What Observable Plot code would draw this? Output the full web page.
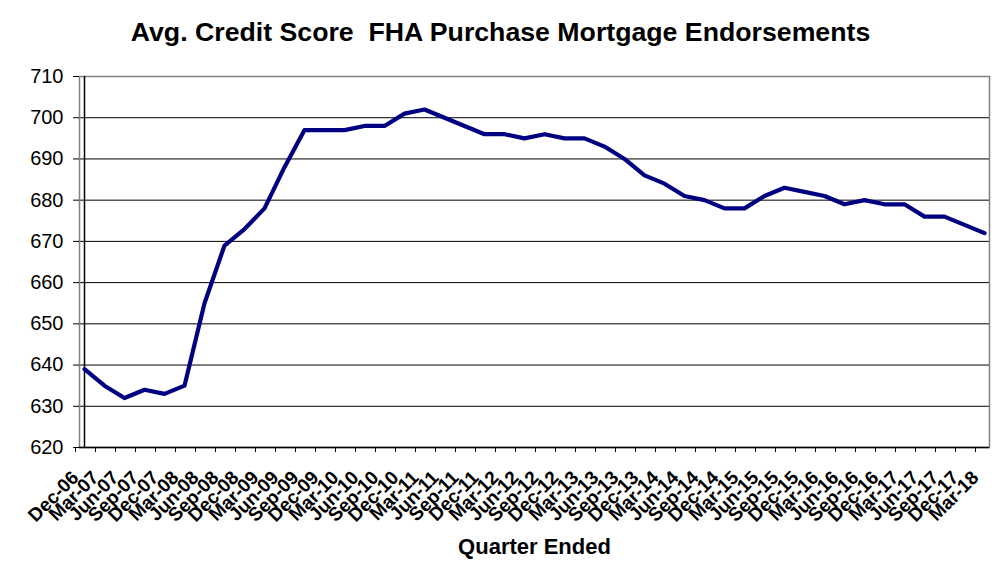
<!DOCTYPE html>
<html>
<head>
<meta charset="utf-8">
<script src="https://cdn.jsdelivr.net/npm/d3@7"></script>
<script src="https://cdn.jsdelivr.net/npm/@observablehq/plot@0.6"></script>
<style>
  html, body { margin: 0; padding: 0; background: #fff; }
  #title {
    box-sizing: border-box; height: 50px; padding-top: 19px;
    font: bold 26.7px "Liberation Sans", Arial, sans-serif; line-height: 1;
    text-align: center; white-space: pre; color: #000; width: 1001px;
  }
</style>
</head>
<body>
<div id="title">Avg. Credit Score  FHA Purchase Mortgage Endorsements</div>
<div id="chart"></div>
<script>
const quarters = ["Dec-06","Mar-07","Jun-07","Sep-07","Dec-07","Mar-08","Jun-08","Sep-08","Dec-08","Mar-09",
  "Jun-09","Sep-09","Dec-09","Mar-10","Jun-10","Sep-10","Dec-10","Mar-11","Jun-11","Sep-11",
  "Dec-11","Mar-12","Jun-12","Sep-12","Dec-12","Mar-13","Jun-13","Sep-13","Dec-13","Mar-14",
  "Jun-14","Sep-14","Dec-14","Mar-15","Jun-15","Sep-15","Dec-15","Mar-16","Jun-16","Sep-16",
  "Dec-16","Mar-17","Jun-17","Sep-17","Dec-17","Mar-18"];
const scores = [639,635,632,634,633,635,655,669,673,678,
  688,697,697,697,698,698,701,702,700,698,
  696,696,695,696,695,695,693,690,686,684,
  681,680,678,678,681,683,682,681,679,680,
  679,679,676,676,674,672];
const yTicks = [620,630,640,650,660,670,680,690,700,710];
const gridValues = [630,640,650,660,670,680,690,700];
const xTitle = "Quarter Ended";

const data = quarters.map((q, i) => ({quarter: q, score: scores[i]}));

const chart = Plot.plot({
  width: 1001,
  height: 521,
  marginTop: 26,
  marginBottom: 124,
  marginLeft: 79,
  marginRight: 12,
  style: {fontFamily: "'Liberation Sans', Arial, sans-serif", color: "#000", background: "#fff", overflow: "visible"},
  x: {type: "point", domain: quarters, padding: 0},
  y: {domain: [620, 710]},
  marks: [
    Plot.ruleY(gridValues, {stroke: "#000", strokeWidth: 1}),
    Plot.frame({stroke: "#808080", strokeWidth: 1.5}),
    Plot.ruleX([quarters[0]], {stroke: "#000", strokeWidth: 1.5}),
    Plot.ruleY([620], {stroke: "#000", strokeWidth: 1.5}),
    Plot.line(data, {x: "quarter", y: "score", stroke: "#000080", strokeWidth: 4.2, strokeLinejoin: "round"}),
    Plot.axisY({ticks: yTicks, tickSize: 6, tickPadding: 10, fontSize: 20, label: null, tickFormat: d => String(d)}),
    Plot.axisX({tickRotate: -45, tickSize: 5, tickPadding: 22, dx: -9, fontSize: 19, fontWeight: "bold", label: null}),
    Plot.text([xTitle], {frameAnchor: "bottom", dy: 106, fontSize: 22, fontWeight: "bold", fill: "#000"})
  ]
});
document.getElementById("chart").appendChild(chart);
</script>
</body>
</html>
